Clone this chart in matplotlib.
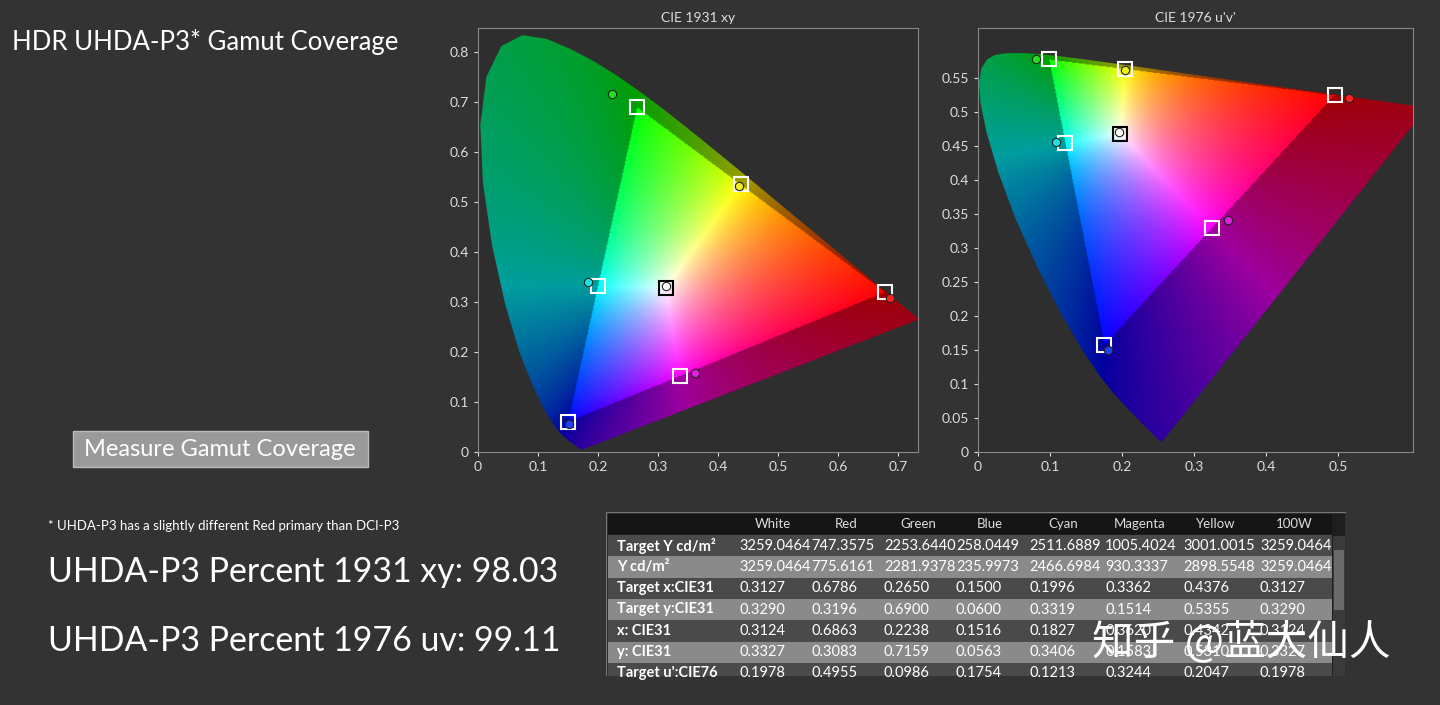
import numpy as np
import matplotlib
matplotlib.use("Agg")
import matplotlib.pyplot as plt
from matplotlib.patches import Polygon, Rectangle
from matplotlib.path import Path

plt.rcParams['font.family'] = ['Lato', 'DejaVu Sans']

BG = '#333333'

# CIE 1931 spectral locus (x, y), 380-700 nm
locus_x = [0.1741, 0.1738, 0.1733, 0.1726, 0.1714, 0.1703, 0.1689, 0.1669, 0.1644, 0.1611,
           0.1566, 0.1510, 0.1440, 0.1355, 0.1241, 0.1096, 0.0913, 0.0687, 0.0454, 0.0235,
           0.0082, 0.0039, 0.0139, 0.0389, 0.0743, 0.1142, 0.1547, 0.1929, 0.2296, 0.2658,
           0.3016, 0.3373, 0.3731, 0.4087, 0.4441, 0.4788, 0.5125, 0.5448, 0.5752, 0.6029,
           0.6270, 0.6482, 0.6658, 0.6801, 0.6915, 0.7006, 0.7079, 0.7140, 0.7190, 0.7230,
           0.7260, 0.7300, 0.7347]
locus_y = [0.0050, 0.0049, 0.0048, 0.0048, 0.0051, 0.0058, 0.0069, 0.0086, 0.0109, 0.0138,
           0.0177, 0.0227, 0.0297, 0.0399, 0.0578, 0.0868, 0.1327, 0.2007, 0.2950, 0.4127,
           0.5384, 0.6548, 0.7502, 0.8120, 0.8338, 0.8262, 0.8059, 0.7816, 0.7543, 0.7243,
           0.6923, 0.6589, 0.6245, 0.5896, 0.5547, 0.5202, 0.4866, 0.4544, 0.4242, 0.3965,
           0.3725, 0.3514, 0.3340, 0.3197, 0.3083, 0.2993, 0.2920, 0.2859, 0.2809, 0.2770,
           0.2740, 0.2700, 0.2653]

# table data
columns = ['White', 'Red', 'Green', 'Blue', 'Cyan', 'Magenta', 'Yellow', '100W']
row_names = ['Target Y cd/m²', 'Y cd/m²', 'Target x:CIE31', 'Target y:CIE31',
             'x: CIE31', 'y: CIE31', "Target u':CIE76"]
target_Y = ['3259.0464', '747.3575', '2253.6440', '258.0449', '2511.6889', '1005.4024', '3001.0015', '3259.0464']
meas_Y = ['3259.0464', '775.6161', '2281.9378', '235.9973', '2466.6984', '930.3337', '2898.5548', '3259.0464']
target_x = [0.3127, 0.6786, 0.2650, 0.1500, 0.1996, 0.3362, 0.4376, 0.3127]
target_y = [0.3290, 0.3196, 0.6900, 0.0600, 0.3319, 0.1514, 0.5355, 0.3290]
meas_x = [0.3124, 0.6863, 0.2238, 0.1516, 0.1827, 0.3620, 0.4342, 0.3124]
meas_y = [0.3327, 0.3083, 0.7159, 0.0563, 0.3406, 0.1583, 0.5310, 0.3327]
target_u = ['0.1978', '0.4955', '0.0986', '0.1754', '0.1213', '0.3244', '0.2047', '0.1978']
marker_colors = ['white', '#ff2020', '#20e020', '#2040ff', '#20e0e0', '#e020e0', '#f0f020', 'white']


def xy_to_uv(x, y):
    x = np.asarray(x, float); y = np.asarray(y, float)
    d = -2 * x + 12 * y + 3
    return 4 * x / d, 9 * y / d


def uv_to_xy(u, v):
    d = 6 * u - 16 * v + 12
    return 9 * u / d, 4 * v / d


def xy_rgb(x, y):
    y = np.maximum(y, 1e-4)
    X = x / y; Z = (1 - x - y) / y
    # P3 primaries shown as display RGB
    r = 2.4935 * X - 0.9314 - 0.4027 * Z
    g = -0.8295 * X + 1.7627 + 0.0236 * Z
    b = 0.0358 * X - 0.0762 + 0.9569 * Z
    rgb = np.stack([r, g, b], -1)
    rgb = rgb / np.maximum(rgb.max(-1, keepdims=True), 1e-6)
    mn = rgb.min(-1, keepdims=True)
    t = np.where(mn < 0, 1 / (1 - mn), 1.0)
    rgb = 1 + t * (rgb - 1)
    rgb = np.clip(rgb, 0, None)
    rgb = rgb / np.maximum(rgb.max(-1, keepdims=True), 1e-6)
    rgb = np.clip(rgb, 0, 1) ** 1.8  # push toward saturated hues
    return rgb ** (1 / 2.2)


def diagram(ax, xlim, ylim, uv):
    n = 500
    gx, gy = np.meshgrid(np.linspace(xlim[0], xlim[1], n), np.linspace(ylim[0], ylim[1], n))
    if uv:
        cx, cy = uv_to_xy(gx, gy)
    else:
        cx, cy = gx, gy
    img = xy_rgb(cx, cy)
    tri = [(target_x[i], target_y[i]) for i in (1, 2, 3)]
    if uv:
        tri = [tuple(xy_to_uv(a, b)) for a, b in tri]
    inside = Path(tri).contains_points(np.c_[gx.ravel(), gy.ravel()]).reshape(gx.shape)
    img[~inside] *= 0.62
    im = ax.imshow(img, origin='lower', extent=[xlim[0], xlim[1], ylim[0], ylim[1]],
                   aspect='auto', interpolation='bilinear', zorder=1)
    lx, ly = np.array(locus_x), np.array(locus_y)
    if uv:
        lx, ly = xy_to_uv(lx, ly)
    poly = Polygon(np.c_[lx, ly], closed=True, facecolor='none', edgecolor='none')
    ax.add_patch(poly)
    im.set_clip_path(poly)
    tx, ty = np.array(target_x[:7]), np.array(target_y[:7])
    mx, my = np.array(meas_x[:7]), np.array(meas_y[:7])
    if uv:
        tx, ty = xy_to_uv(tx, ty); mx, my = xy_to_uv(mx, my)
    for i in range(7):
        ec = 'black' if i == 0 else 'white'
        ax.plot(tx[i], ty[i], marker='s', ms=10, mfc='none', mec=ec, mew=1.5, zorder=3)
        mcol = 'white' if i == 0 else marker_colors[i]
        ax.plot(mx[i], my[i], marker='o', ms=6, mfc=mcol, mec='#222222', mew=0.8, zorder=4)
    ax.set_xlim(xlim); ax.set_ylim(ylim)
    ax.set_facecolor('#2e2e2e')
    for s in ax.spines.values():
        s.set_color('#888888')
    ax.tick_params(colors='#dddddd', labelsize=10, length=3)


fig = plt.figure(figsize=(14.4, 7.05), dpi=100, facecolor=BG)
W, H = 1440, 705


def px_axes(x0, y0, x1, y1):
    return fig.add_axes([x0 / W, 1 - y1 / H, (x1 - x0) / W, (y1 - y0) / H])


ax1 = px_axes(478, 28, 918, 452)
diagram(ax1, (0, 0.733), (0, 0.848), False)
ax1.set_xticks(np.arange(0, 0.71, 0.1))
ax1.set_xticklabels(['0'] + ['%g' % v for v in np.arange(0.1, 0.71, 0.1).round(1)])
ax1.set_yticks(np.arange(0, 0.81, 0.1))
ax1.set_yticklabels(['0'] + ['%g' % v for v in np.arange(0.1, 0.81, 0.1).round(1)])
ax1.set_title('CIE 1931 xy', color='#dddddd', fontsize=10, pad=4)

ax2 = px_axes(978, 28, 1413, 452)
diagram(ax2, (0, 0.604), (0, 0.6235), True)
ax2.set_xticks(np.arange(0, 0.51, 0.1))
ax2.set_xticklabels(['0'] + ['%g' % v for v in np.arange(0.1, 0.51, 0.1).round(1)])
yt = np.arange(0, 0.56, 0.05).round(2)
ax2.set_yticks(yt)
ax2.set_yticklabels(['0'] + ['%g' % v for v in yt[1:]])
ax2.set_title("CIE 1976 u'v'", color='#dddddd', fontsize=10, pad=4)

fig.text(12 / W, 1 - 42 / H, 'HDR UHDA-P3* Gamut Coverage', color='white', fontsize=18.5, va='center')
fig.patches.append(Rectangle((73 / W, 1 - 467 / H), 295 / W, 36 / H, transform=fig.transFigure,
                             facecolor='#9a9a9a', edgecolor='#bbbbbb', lw=1))
fig.text(220 / W, 1 - 450 / H, 'Measure Gamut Coverage', color='white', fontsize=17,
         ha='center', va='center')
fig.text(48 / W, 1 - 526 / H, '* UHDA-P3 has a slightly different Red primary than DCI-P3',
         color='white', fontsize=9.5, va='center')
fig.text(48 / W, 1 - 572 / H, 'UHDA-P3 Percent 1931 xy: 98.03', color='white', fontsize=24.4, va='center')
fig.text(48 / W, 1 - 641 / H, 'UHDA-P3 Percent 1976 uv: 99.11', color='white', fontsize=24.4, va='center')

# table
tax = px_axes(606, 512, 1346, 676)
tax.set_xlim(606, 1346); tax.set_ylim(676, 512)
tax.axis('off')
tax.add_patch(Rectangle((606, 512), 740, 164, facecolor='#1e1e1e', edgecolor='#777777', lw=1))
tax.add_patch(Rectangle((608, 514), 724, 20, facecolor='#151515', edgecolor='none'))
col_x = [773, 846, 918, 990, 1063, 1140, 1216, 1294]
for cx, c in zip(col_x, columns):
    tax.text(cx, 524, c, color='#dddddd', fontsize=9.5, ha='center', va='center')
rows = [target_Y, meas_Y,
        ['%.4f' % v for v in target_x], ['%.4f' % v for v in target_y],
        ['%.4f' % v for v in meas_x], ['%.4f' % v for v in meas_y], target_u]
val_x = [739, 811, 884, 956, 1029, 1105, 1183, 1260]
for r, (name, vals) in enumerate(zip(row_names, rows)):
    y0 = 535 + r * 21.3
    tax.add_patch(Rectangle((608, y0), 724, 21.3, facecolor='#4a4a4a' if r % 2 == 0 else '#8a8a8a',
                            edgecolor='none'))
    yc = y0 + 10.6
    tax.text(617, yc, name, color='white', fontsize=10.5, fontweight='bold', va='center')
    for vx, v in zip(val_x, vals):
        tax.text(vx, yc, v, color='white', fontsize=10.5, va='center')
tax.add_patch(Rectangle((1333, 536), 12, 140, facecolor='#3a3a3a', edgecolor='none'))
tax.add_patch(Rectangle((1334, 550), 10, 60, facecolor='#6a6a6a', edgecolor='none'))

fig.text(1092 / W, 1 - 643 / H, '知乎 @蓝大仙人', color='white', fontsize=30, va='center',
         family=['Noto Sans CJK SC', 'DejaVu Sans'])

fig.savefig('out.png', dpi=100, facecolor=BG)
